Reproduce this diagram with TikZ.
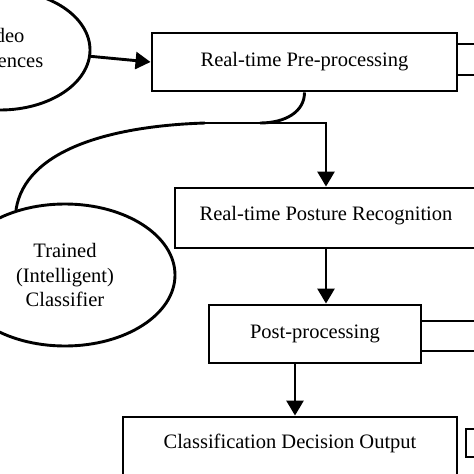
\documentclass[tikz,border=0pt]{standalone}
\usepackage{fontspec}
\setmainfont{Liberation Serif}
\usetikzlibrary{arrows.meta,shapes.geometric}
\begin{document}
\begin{tikzpicture}[x=1pt,y=-1pt,line width=2.9pt,
  txt/.style={font=\fontsize{20.5}{24.5}\selectfont,align=center},
  box/.style={draw,rectangle,inner sep=0pt,txt},
  lbl/.style={inner sep=0pt,txt},
  ell/.style={draw,ellipse,inner sep=0pt,txt},
  arr/.style={-{Triangle[width=17pt,length=15pt]}}]
\useasboundingbox (0,0) rectangle (474,474);
\clip (0,0) rectangle (474,474);
% ellipses
\node[ell,minimum width=180pt,minimum height=120pt] (vid) at (0,50) {Video\\Sequences};
\node[ell,minimum width=220pt,minimum height=142pt] (cls) at (65,275) {Trained\\(Intelligent)\\Classifier};
% boxes
\node[box,minimum width=305pt,minimum height=58pt] (pre) at (304.5,62) {Real-time Pre-processing};
\node[box,minimum width=314pt,minimum height=60pt] (rec) at (332,218) {};
\node[lbl] (rect) at (326,216) {Real-time Posture Recognition};
\node[box,minimum width=212pt,minimum height=58pt] (post) at (315,334) {Post-processing};
\node[box,minimum width=334pt,minimum height=76pt] (out) at (290,455) {};
\node[lbl] (outt) at (290,443) {Classification Decision Output};
\node[box,minimum width=30pt,minimum height=28pt] (sm) at (481,443) {};
% free ends at the right edge
\coordinate (r1) at (490,44);
\coordinate (r2) at (490,75);
\coordinate (r3) at (490,321);
\coordinate (r4) at (490,351);
\draw (pre.east |- r1) -- (r1);
\draw (pre.east |- r2) -- (r2);
\draw (post.east |- r3) -- (r3);
\draw (post.east |- r4) -- (r4);
% connectors
\coordinate (j) at (326,123);
\coordinate (m) at (260,123);
\coordinate (m0) at (205,123);
\draw[arr] (vid.-4) -- (pre.west);
\draw (pre.south) .. controls (304.5,112) and (285,123) .. (m);
\draw (cls.127) .. controls (25,150) and (110,126) .. (m0);
\draw[arr] (m0) -- (j) -- (j |- rec.north);
\draw[arr] (j |- rec.south) -- (j |- post.north);
\draw[arr] ([xshift=-20pt]post.south) -- ([xshift=-20pt]post.south |- out.north);
\end{tikzpicture}
\end{document}
